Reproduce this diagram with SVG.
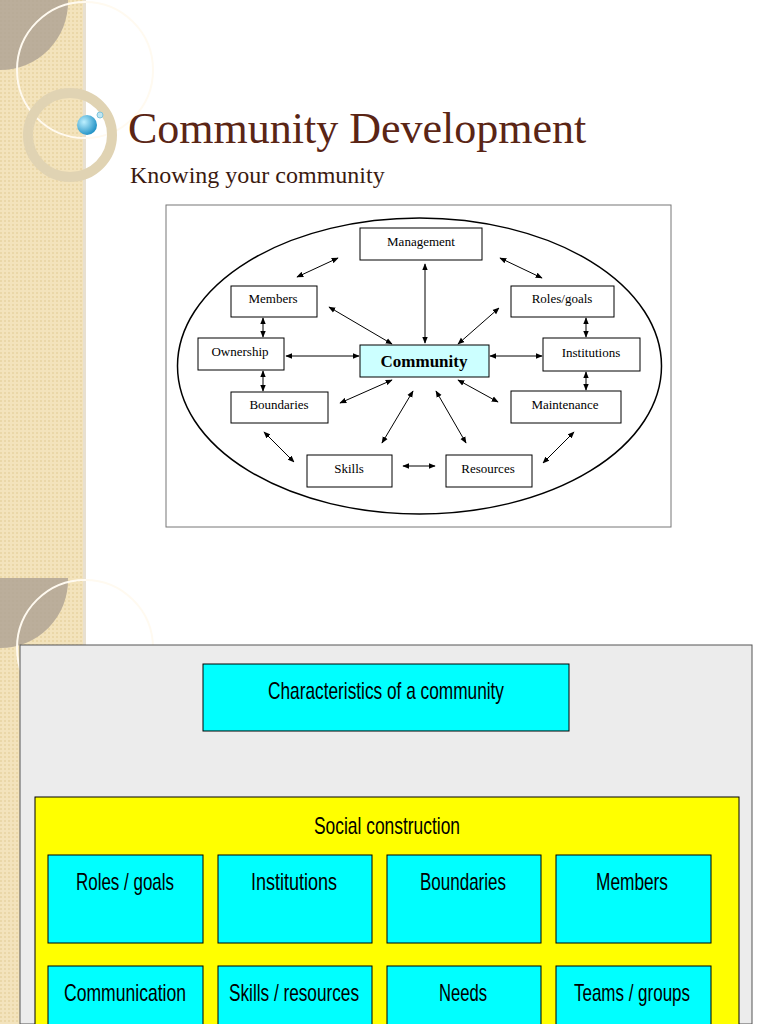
<svg xmlns="http://www.w3.org/2000/svg" width="768" height="1024" viewBox="0 0 768 1024">
<defs>
<marker id="ah" viewBox="0 0 10 10" refX="9" refY="5" markerWidth="7" markerHeight="7" orient="auto-start-reverse"><path d="M0,1 L10,5 L0,9 z" fill="#000"/></marker>
<pattern id="tex" width="4" height="4" patternUnits="userSpaceOnUse"><rect width="4" height="4" fill="#f3e3bc"/><rect width="2" height="2" fill="#ead7a8"/></pattern>
<radialGradient id="ball" cx="0.35" cy="0.35" r="0.7"><stop offset="0" stop-color="#bdf0ff"/><stop offset="1" stop-color="#1d8fc4"/></radialGradient>
</defs>
<style>
.b{fill:#fff;stroke:#000;stroke-width:1}
.t{font-family:"Liberation Serif",serif;font-size:13px;text-anchor:middle;fill:#000}
.c line{stroke:#000;stroke-width:1;marker-start:url(#ah);marker-end:url(#ah)}
.cy{fill:#00ffff;stroke:#000;stroke-width:1}
.n{font-family:"Liberation Sans",sans-serif;font-size:24px;text-anchor:middle;fill:#000}
</style>
<rect width="768" height="1024" fill="#fff"/>
<rect width="85" height="1024" fill="url(#tex)"/>
<rect x="83" width="3" height="1024" fill="#e8e0d0"/>
<path d="M0,0 H68 A68,68 0 0 1 0,70 Z" fill="#b0a595" opacity="0.85"/>
<circle cx="85" cy="70" r="68" fill="none" stroke="#fffaf0" stroke-width="2"/>
<circle cx="70" cy="135" r="42" fill="none" stroke="#e0d3b3" stroke-width="10"/>
<path d="M0,578 H68 A68,68 0 0 1 0,648 Z" fill="#b0a595" opacity="0.85"/>
<circle cx="85" cy="648" r="68" fill="none" stroke="#fffaf0" stroke-width="2"/>
<circle cx="87" cy="125" r="10" fill="url(#ball)"/>
<circle cx="100" cy="115" r="3" fill="#bfe6f2" stroke="#7fc4dc"/>
<text x="128" y="143" font-family="Liberation Serif,serif" font-size="44" fill="#5a2515">Community Development</text>
<text x="130" y="183" font-family="Liberation Serif,serif" font-size="24" fill="#3a1a10">Knowing your community</text>

<rect x="166" y="205" width="505" height="322" fill="#fff" stroke="#777"/>
<ellipse cx="419.5" cy="366" rx="242" ry="148" fill="none" stroke="#000" stroke-width="1.5"/>
<g class="c" id="connectors">
<line x1="297" y1="277" x2="338" y2="258"/>
<line x1="500" y1="258" x2="542" y2="278"/>
<line x1="425" y1="264" x2="425" y2="343"/>
<line x1="329" y1="307" x2="392" y2="344"/>
<line x1="499" y1="308" x2="458" y2="344"/>
<line x1="263" y1="318" x2="263" y2="337"/>
<line x1="286" y1="356" x2="359" y2="356"/>
<line x1="490" y1="356" x2="542" y2="356"/>
<line x1="586" y1="318" x2="586" y2="337"/>
<line x1="263" y1="371" x2="263" y2="391"/>
<line x1="586" y1="372" x2="586" y2="390"/>
<line x1="340" y1="403" x2="392" y2="380"/>
<line x1="458" y1="380" x2="498" y2="402"/>
<line x1="413" y1="391" x2="382" y2="443"/>
<line x1="436" y1="391" x2="466" y2="443"/>
<line x1="264" y1="432" x2="294" y2="462"/>
<line x1="574" y1="432" x2="543" y2="463"/>
<line x1="403" y1="466" x2="435" y2="466"/>
<line x1="386" y1="733" x2="386" y2="797"/>
</g>
<g id="management"><rect class="b" x="360" y="228" width="122" height="32"/><text class="t" x="421" y="246">Management</text></g>
<g id="members"><rect class="b" x="231" y="286" width="86" height="31"/><text class="t" x="273" y="303">Members</text></g>
<g id="roles"><rect class="b" x="511" y="286" width="103" height="31"/><text class="t" x="562" y="303">Roles/goals</text></g>
<g id="ownership"><rect class="b" x="198" y="338" width="86" height="32"/><text class="t" x="240" y="356">Ownership</text></g>
<g id="community"><rect x="360" y="345" width="129" height="32" fill="#ccffff" stroke="#000"/><text x="424" y="367" font-family="Liberation Serif,serif" font-size="17" font-weight="bold" text-anchor="middle">Community</text></g>
<g id="institutions"><rect class="b" x="543" y="338" width="97" height="33"/><text class="t" x="591" y="357">Institutions</text></g>
<g id="boundaries"><rect class="b" x="231" y="392" width="97" height="31"/><text class="t" x="279" y="409">Boundaries</text></g>
<g id="maintenance"><rect class="b" x="511" y="391" width="110" height="32"/><text class="t" x="565" y="409">Maintenance</text></g>
<g id="skills"><rect class="b" x="307" y="455" width="85" height="32"/><text class="t" x="349" y="473">Skills</text></g>
<g id="resources"><rect class="b" x="446" y="455" width="86" height="32"/><text class="t" x="488" y="473">Resources</text></g>

<rect x="20" y="645" width="732" height="379" fill="#ececec" stroke="#555"/>
<g id="characteristics"><rect class="cy" x="203" y="664" width="366" height="67"/><text class="n" x="386" y="699" textLength="236" lengthAdjust="spacingAndGlyphs">Characteristics of a community</text></g>
<g id="social"><rect x="35" y="797" width="704" height="240" fill="#ffff00" stroke="#000"/><text class="n" x="387" y="834" textLength="146" lengthAdjust="spacingAndGlyphs">Social construction</text></g>
<g id="n1"><rect class="cy" x="48" y="855" width="155" height="88"/><text class="n" x="125" y="890" textLength="98" lengthAdjust="spacingAndGlyphs">Roles / goals</text></g>
<g id="n2"><rect class="cy" x="218" y="855" width="154" height="88"/><text class="n" x="294" y="890" textLength="86" lengthAdjust="spacingAndGlyphs">Institutions</text></g>
<g id="n3"><rect class="cy" x="387" y="855" width="154" height="88"/><text class="n" x="463" y="890" textLength="86" lengthAdjust="spacingAndGlyphs">Boundaries</text></g>
<g id="n4"><rect class="cy" x="556" y="855" width="155" height="88"/><text class="n" x="632" y="890" textLength="72" lengthAdjust="spacingAndGlyphs">Members</text></g>
<g id="n5"><rect class="cy" x="48" y="966" width="155" height="88"/><text class="n" x="125" y="1001" textLength="122" lengthAdjust="spacingAndGlyphs">Communication</text></g>
<g id="n6"><rect class="cy" x="218" y="966" width="154" height="88"/><text class="n" x="294" y="1001" textLength="130" lengthAdjust="spacingAndGlyphs">Skills / resources</text></g>
<g id="n7"><rect class="cy" x="387" y="966" width="154" height="88"/><text class="n" x="463" y="1001" textLength="48" lengthAdjust="spacingAndGlyphs">Needs</text></g>
<g id="n8"><rect class="cy" x="556" y="966" width="155" height="88"/><text class="n" x="632" y="1001" textLength="116" lengthAdjust="spacingAndGlyphs">Teams / groups</text></g>
</svg>
